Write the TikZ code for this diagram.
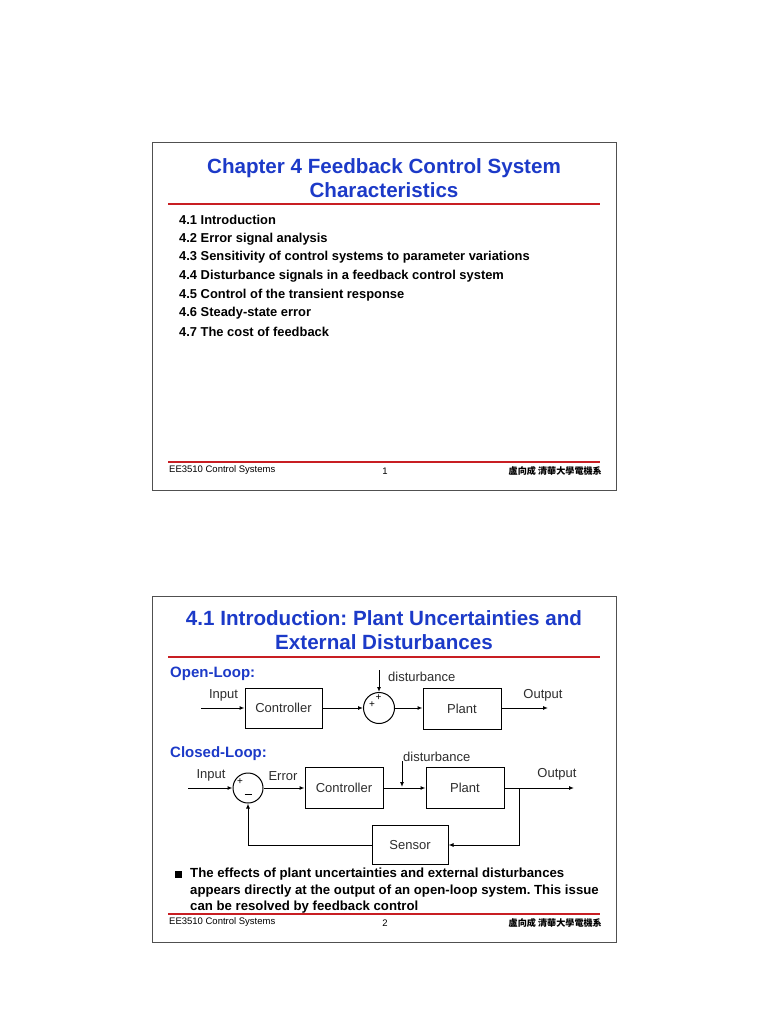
\documentclass[tikz,border=0pt]{standalone}
\usepackage{fontspec}
\setmainfont{Liberation Sans}
\newfontfamily\cjk{Noto Sans CJK TC}
\usetikzlibrary{arrows.meta}
\definecolor{ttlblue}{RGB}{28,58,200}
\definecolor{linered}{RGB}{200,30,35}
\definecolor{framegray}{RGB}{80,80,80}
\definecolor{txtgray}{RGB}{45,45,45}
\frenchspacing
\begin{document}
\begin{tikzpicture}[x=1pt,y=-1pt,
  frame/.style={draw=framegray,line width=1pt},
  title/.style={text=ttlblue,font=\fontsize{20.6}{24}\selectfont\bfseries,align=center,inner sep=0},
  redrule/.style={draw=linered,line width=2.5pt},
  item/.style={anchor=west,font=\fontsize{12.9}{15}\selectfont\bfseries,inner sep=0},
  foot/.style={font=\fontsize{9.5}{11}\selectfont,inner sep=0},
  cfoot/.style={font=\cjk\bfseries\fontsize{9.1}{11}\selectfont,inner sep=0,anchor=east},
  head/.style={anchor=west,text=ttlblue,font=\fontsize{15}{17}\selectfont\bfseries,inner sep=0},
  blk/.style={draw,line width=1pt,minimum width=78pt,minimum height=41pt,font=\fontsize{13}{15}\selectfont,text=txtgray,inner sep=0},
  sum/.style={draw,circle,line width=1pt,minimum size=31pt,inner sep=0},
  lbl/.style={font=\fontsize{13}{15}\selectfont,text=txtgray,inner sep=0},
  sgn/.style={font=\fontsize{10}{11}\selectfont,inner sep=0},
  sig/.style={-{Latex[length=5pt,width=4pt]},line width=1pt},
  ln/.style={line width=1pt},
  btx/.style={anchor=base west,inner sep=0,font=\fontsize{13.2}{16.5}\selectfont\bfseries},
]
\path[use as bounding box] (0,0) rectangle (768,1024);
\fill[white] (0,0) rectangle (768,1024);

% ---------- Slide 1 ----------
\draw[frame] (152,143) rectangle (616,490);
\node[title] (t1) at (384,178) {Chapter 4 Feedback Control System\\Characteristics};
\draw[redrule] (168,204) -- (600,204);
\node[item] (i1) at (179,220) {4.1 Introduction};
\node[item] (i2) at (179,239) {4.2 Error signal analysis};
\node[item] (i3) at (179,257.5) {4.3 Sensitivity of control systems to parameter variations};
\node[item] (i4) at (179,276) {4.4 Disturbance signals in a feedback control system};
\node[item] (i5) at (179,295) {4.5 Control of the transient response};
\node[item] (i6) at (179,313) {4.6 Steady-state error};
\node[item] (i7) at (179,331.5) {4.7 The cost of feedback};
\draw[redrule] (168,462) -- (600,462);
\node[foot,anchor=west] (f1a) at (169,470) {EE3510 Control Systems};
\node[foot] (f1b) at (385,471) {1};
\node[cfoot] (f1c) at (602,471) {盧向成 清華大學電機系};

% ---------- Slide 2 ----------
\draw[frame] (152,596) rectangle (616,942);
\node[title] (t2) at (384,630) {4.1 Introduction: Plant Uncertainties and\\External Disturbances};
\draw[redrule] (168,657) -- (600,657);

\node[head] (ol) at (170,674) {Open-Loop:};
\coordinate (oin) at (201,708);
\node[blk,minimum width=77pt,minimum height=40pt] (octrl) at (283.5,708) {Controller};
\node[sum] (osum) at (379,708) {};
\node[blk] (oplant) at (462,709) {Plant};
\coordinate (oout) at (548,708);
\coordinate (odist) at (379,670);
\draw[sig] (oin) -- (octrl.west);
\draw[sig] (octrl.east) -- (osum.west);
\draw[sig] (osum.east) -- (osum.east -| oplant.west);
\draw[sig] (oplant.east |- oout) -- (oout);
\draw[sig] (odist) -- (osum.north);
\node[lbl] (oinl) at (223.5,695) {Input};
\node[lbl] (ooutl) at (543,695) {Output};
\node[lbl,anchor=west] (odl) at (388,677) {disturbance};
\node[sgn] (op1) at (378.5,697.5) {+};
\node[sgn] (op2) at (372,704.5) {+};

\node[head] (cl) at (170,754) {Closed-Loop:};
\coordinate (cin) at (188,788);
\node[sum,minimum size=30pt] (csum) at (248,788) {};
\node[blk] (cctrl) at (344,788) {Controller};
\node[blk] (cplant) at (465,788) {Plant};
\node[blk,minimum width=76pt,minimum height=39pt] (csens) at (410,845) {Sensor};
\coordinate (cout) at (574,788);
\coordinate (cbr) at (519,788);
\coordinate (cdist) at (402,761);
\coordinate (cdj) at (402,787);
\draw[sig] (cin) -- (csum.west);
\draw[sig] (csum.east) -- (cctrl.west);
\draw[sig] (cctrl.east) -- (cplant.west);
\draw[sig] (cplant.east) -- (cout);
\draw[sig] (cdist) -- (cdj);
\draw[sig] (cbr) |- (csens.east);
\draw[sig] (csens.west) -| (csum.south);
\node[lbl] (cinl) at (211,775) {Input};
\node[lbl] (cerr) at (283,776) {Error};
\node[lbl] (coutl) at (557,774) {Output};
\node[lbl,anchor=west] (cdl) at (403,757) {disturbance};
\node[sgn] (cp1) at (240,782) {+};
\draw[ln] (244.5,794) -- (252,794);

\node[fill=black,minimum size=7pt,inner sep=0] (bul) at (178.5,874.5) {};
\node[btx] (b1) at (190,877.5) {The effects of plant uncertainties and external disturbances};
\node[btx] (b2) at (190,894) {appears directly at the output of an open-loop system. This issue};
\node[btx] (b3) at (190,910.5) {can be resolved by feedback control};
\draw[redrule] (168,914) -- (600,914);
\node[foot,anchor=west] (f2a) at (169,922) {EE3510 Control Systems};
\node[foot] (f2b) at (385,923) {2};
\node[cfoot] (f2c) at (602,923) {盧向成 清華大學電機系};
\end{tikzpicture}
\end{document}
